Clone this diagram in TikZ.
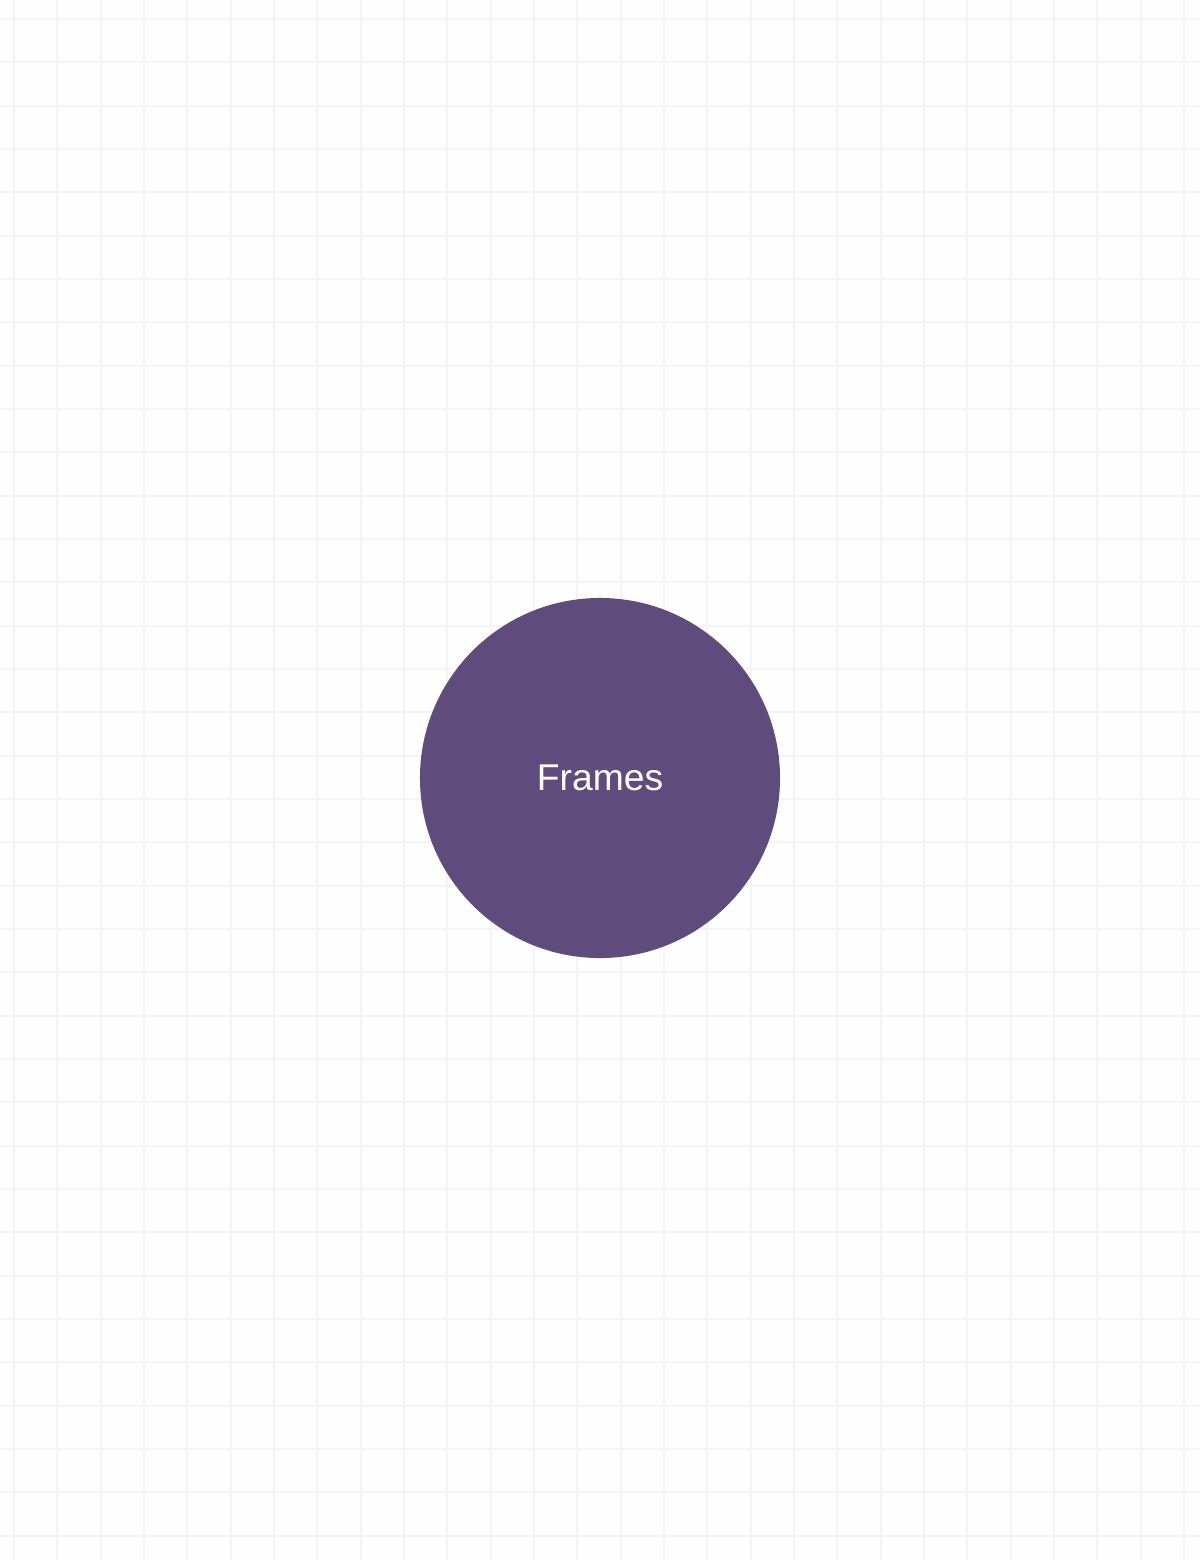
\documentclass[tikz,border=0pt]{standalone}
\usepackage{fontspec}
\setmainfont{Liberation Sans}
\begin{document}
\begin{tikzpicture}[x=0.025cm,y=-0.025cm]
  % Colors
  \definecolor{framecolor}{HTML}{604C7C}
  \definecolor{gridcolor}{HTML}{F3F4F6}
  \definecolor{pagecolor}{HTML}{FEFEFE}

  % Styles
  \tikzstyle{grid line}=[gridcolor,line width=1.3pt]
  \tikzstyle{frame circle}=[circle,fill=framecolor,minimum size=9cm,inner sep=0pt,
    text=white,font=\fontsize{26.5}{30}\selectfont]

  % The page
  \fill[pagecolor] (0,0) rectangle (1200,1560);
  \useasboundingbox (0,0) rectangle (1200,1560);

  \foreach \i in {0,...,27}
    \draw[style=grid line] (14+43.333*\i,0) -- (14+43.333*\i,1560);
  \foreach \j in {0,...,35}
    \draw[style=grid line] (0,19+43.333*\j) -- (1200,19+43.333*\j);

  % The graphic
  \node[style=frame circle] (frames) at (600,778) {\raisebox{-2pt}{Frames}};
\end{tikzpicture}
\end{document}
